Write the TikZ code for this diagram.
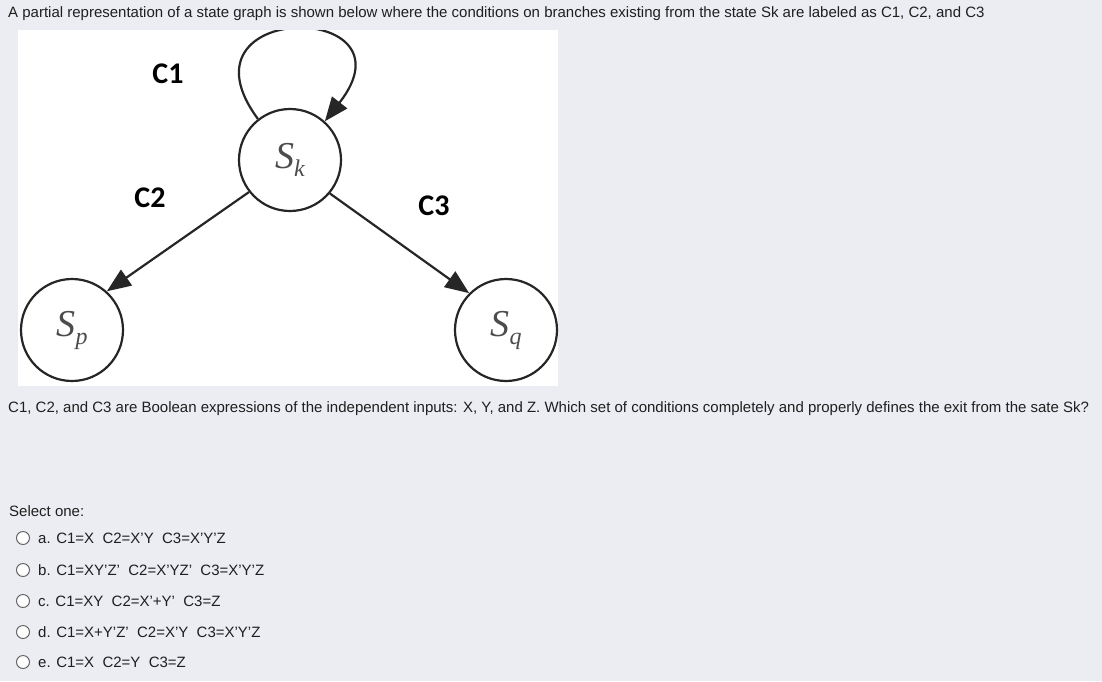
\documentclass[tikz,border=0pt]{standalone}
\usepackage{fontspec}
\setmainfont{Liberation Sans}
\newfontfamily\lblfont{Carlito}
\newfontfamily\stfont{Liberation Serif}
\usetikzlibrary{arrows.meta}
\definecolor{bgc}{HTML}{ECEDF3}
\definecolor{txt}{HTML}{1F1F1F}
\newcommand{\stlab}[2]{{\stfont\itshape\fontsize{38}{38}\selectfont #1}\raisebox{-8pt}{\stfont\itshape\fontsize{24}{24}\selectfont #2}}
\begin{document}
\begin{tikzpicture}[x=1pt,y=-1pt,
  st/.style={circle,draw=black!85,line width=2.2pt,fill=white,minimum size=102pt,inner sep=0pt,text=black!70},
  tr/.style={line width=2.2pt,draw=black!85,-{Triangle[length=24pt,width=19pt]}},
  cl/.style={font=\lblfont\bfseries\fontsize{30}{30}\selectfont},
  t/.style={anchor=west,inner sep=0pt,font=\fontsize{15}{15}\selectfont,text=txt},
  rb/.style={circle,draw=black!60,fill=white,line width=1pt,minimum size=13pt,inner sep=0pt}]
\fill[bgc] (0,0) rectangle (1102,681);
\useasboundingbox (0,0) rectangle (1102,681);
\fill[white] (18,30) rectangle (558,386);
\begin{scope}
\clip (18,30) rectangle (558,386);
\node[st] (Sk) at (290,160) {\stlab{S}{k}};
\node[st] (Sp) at (72,330) {\stlab{S}{p}};
\node[st] (Sq) at (506,330) {\stlab{S}{q}};
\draw[tr] (Sk.128) .. controls (170,0) and (420,0) .. (Sk.48);
\draw[tr] (Sk.218) -- (Sp.48);
\draw[tr] (Sk.320) -- (Sq.135);
\end{scope}
\node[cl] (c1) at (168,74) {C1};
\node[cl] (c2) at (150,198) {C2};
\node[cl] (c3) at (434,206) {C3};
\node[t] (title) at (8,14) {A partial representation of a state graph is shown below where the conditions on branches existing from the state Sk are labeled as C1, C2, and C3};
\node[t] (q) at (8,409) {C1, C2, and C3 are Boolean expressions of the independent inputs: X, Y, and Z. Which set of conditions completely and properly defines the exit from the sate Sk?};
\node[t] (sel) at (9,511) {Select one:};
\foreach \y/\s [count=\i] in {538/{a. C1=X\ \ C2=X'Y\ \ C3=X'Y'Z},570/{b. C1=XY'Z'\ \ C2=X'YZ'\ \ C3=X'Y'Z},601/{c. C1=XY\ \ C2=X'+Y'\ \ C3=Z},632/{d. C1=X+Y'Z'\ \ C2=X'Y\ \ C3=X'Y'Z},662/{e. C1=X\ \ C2=Y\ \ C3=Z}}{
  \node[rb] (r\i) at (23,\y) {};
  \node[t] (o\i) at (38,\y) {\s};
}
\end{tikzpicture}
\end{document}
